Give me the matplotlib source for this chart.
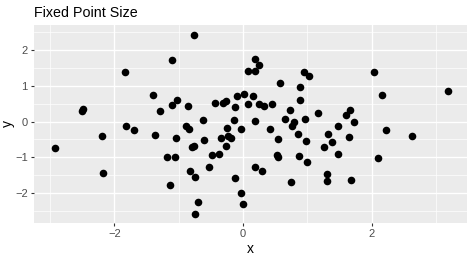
import numpy
import matplotlib
matplotlib.use('Agg')
import matplotlib.pyplot as plt
from matplotlib.ticker import MultipleLocator

plt.rcParams['font.family'] = ['Liberation Sans', 'DejaVu Sans']

# points
x = [-2.93, -2.19, -2.17, -2.49, -2.50, -1.84, -1.82, -1.70, -1.40, -1.37,
     -1.29, -1.18, -1.06, -1.05, -1.13, -1.11, -1.11, -1.02, -0.88, -0.84,
     -0.80, -0.76, -0.86, -0.83, -0.74, -0.70, -0.75, -0.77, -0.63, -0.60,
     -0.49, -0.53, -0.44, -0.38, -0.35, -0.26, -0.25, -0.24, -0.19, -0.32,
     -0.27, -0.14, -0.13, -0.04, 0.00, -0.12, -0.10, -0.04, 0.02, 0.07,
     0.15, 0.18, 0.24, 0.07, 0.18, 0.25, 0.33, 0.45, 0.18, 0.42,
     0.19, 0.29, 0.54, 0.53, 0.54, 0.58, 0.65, 0.73, 0.76, 0.79,
     0.74, 0.85, 0.87, 0.88, 0.88, 0.95, 1.02, 0.96, 0.97, 1.00,
     1.16, 1.26, 1.32, 1.38, 1.47, 1.47, 1.31, 1.31, 1.60, 1.66,
     1.65, 1.72, 1.68, 2.04, 2.09, 2.16, 2.22, 2.63, 3.18]
y = [-0.74, -0.41, -1.43, 0.36, 0.30, 1.38, -0.12, -0.24, 0.74, -0.37,
     0.28, -1.00, -1.00, -0.45, -1.78, 1.71, 0.46, 0.59, -0.12, -0.20,
     -0.72, -0.69, 0.42, -1.38, -1.56, -2.23, -2.58, 2.42, 0.05, -0.52,
     -0.94, -1.27, 0.52, -0.90, -0.46, -0.68, -0.19, -0.39, -0.46, 0.53,
     0.58, 0.03, -1.58, -1.98, -2.29, 0.41, 0.70, -0.21, 0.78, 0.49,
     0.72, 1.74, 1.58, 1.41, 1.41, 0.48, 0.44, 0.50, 0.01, -0.20,
     -1.28, -1.38, -0.50, -0.92, -0.98, 1.08, 0.08, 0.31, -0.12, -0.02,
     -1.69, -0.34, -0.96, 0.96, 0.61, 1.37, 1.26, 0.06, -0.55, -1.12,
     0.23, -0.71, -0.34, -0.58, -0.13, -0.90, -1.46, -1.65, 0.17, 0.33,
     -0.43, -0.02, -1.62, 1.37, -1.03, 0.74, -0.24, -0.41, 0.86]

fig = plt.figure(figsize=(4.74, 2.59), dpi=100)
ax = fig.add_axes([34/474., 1-222.7/259., (467-34)/474., (222.7-25)/259.])

ax.set_facecolor('#EBEBEB')
for s in ax.spines.values():
    s.set_visible(False)

ax.scatter(x, y, s=30, c='black', linewidths=0, zorder=3)

ax.set_xlim(-3.25, 3.48)
ax.set_ylim(-2.82, 2.69)

ax.xaxis.set_major_locator(MultipleLocator(2))
ax.xaxis.set_minor_locator(MultipleLocator(1))
ax.yaxis.set_major_locator(MultipleLocator(1))
ax.yaxis.set_minor_locator(MultipleLocator(0.5))

ax.grid(which='major', color='white', lw=1.0, zorder=0)
ax.grid(which='minor', color='white', lw=0.5, zorder=0)
ax.set_axisbelow(True)

ax.tick_params(which='major', length=2.5, width=0.8, color='#333333',
               labelcolor='#4D4D4D', labelsize=8, pad=2)
ax.tick_params(which='minor', length=0)

ax.set_xlabel('x', fontsize=10, color='black', labelpad=2)
ax.set_ylabel('y', fontsize=10, color='black')
ax.yaxis.set_label_coords(-0.045, 0.5)
ax.set_title('Fixed Point Size', loc='left', fontsize=10.3, pad=6)

plt.savefig('out.png', dpi=100)
